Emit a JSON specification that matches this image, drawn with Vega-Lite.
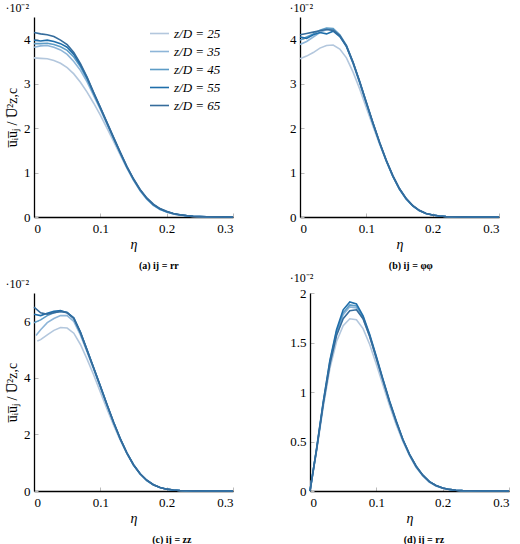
{
"$schema":"https://vega.github.io/schema/vega-lite/v6.json",
"padding":{"left":5,"top":2,"right":2,"bottom":0},
"background":"white",
"config":{
 "font":"Liberation Serif",
 "view":{"stroke":null},
 "axis":{"domainColor":"#000","domainWidth":1.3,"tickColor":"#bbbbbb","tickSize":-4,"tickWidth":1,"labelFont":"Liberation Serif","labelFontSize":13,"labelColor":"#000","grid":false,"titleFont":"Liberation Serif","titleFontSize":14,"titleFontWeight":"normal","titleColor":"#000","labelPadding":8},
 "axisX":{"labelPadding":9,"titleFontStyle":"italic","titlePadding":2},
 "axisY":{"titlePadding":4},
 "legend":{"labelFont":"Liberation Serif"},
 "title":{"font":"Liberation Serif","fontSize":12,"fontWeight":"normal","color":"#000","anchor":"start","offset":2},
 "line":{"strokeWidth":1.6}
},
"datasets":{
"a":[
{"z":"25","x":0,"y":3.58},{"z":"25","x":0.01,"y":3.57},{"z":"25","x":0.02,"y":3.56},{"z":"25","x":0.03,"y":3.52},{"z":"25","x":0.04,"y":3.46},{"z":"25","x":0.05,"y":3.36},{"z":"25","x":0.06,"y":3.22},{"z":"25","x":0.07,"y":3.03},{"z":"25","x":0.08,"y":2.81},{"z":"25","x":0.09,"y":2.56},{"z":"25","x":0.1,"y":2.29},{"z":"25","x":0.11,"y":2.0},{"z":"25","x":0.12,"y":1.7},{"z":"25","x":0.13,"y":1.4},{"z":"25","x":0.14,"y":1.1},{"z":"25","x":0.15,"y":0.83},{"z":"25","x":0.16,"y":0.6},{"z":"25","x":0.17,"y":0.41},{"z":"25","x":0.18,"y":0.27},{"z":"25","x":0.19,"y":0.17},{"z":"25","x":0.2,"y":0.11},{"z":"25","x":0.21,"y":0.07},{"z":"25","x":0.22,"y":0.04},{"z":"25","x":0.23,"y":0.025},{"z":"25","x":0.24,"y":0.015},{"z":"25","x":0.26,"y":0.005},{"z":"25","x":0.28,"y":0.002},{"z":"25","x":0.3,"y":0},
{"z":"35","x":0,"y":3.82},{"z":"35","x":0.01,"y":3.85},{"z":"35","x":0.02,"y":3.86},{"z":"35","x":0.03,"y":3.82},{"z":"35","x":0.04,"y":3.76},{"z":"35","x":0.05,"y":3.66},{"z":"35","x":0.06,"y":3.5},{"z":"35","x":0.07,"y":3.3},{"z":"35","x":0.08,"y":3.04},{"z":"35","x":0.09,"y":2.73},{"z":"35","x":0.1,"y":2.42},{"z":"35","x":0.11,"y":2.09},{"z":"35","x":0.12,"y":1.76},{"z":"35","x":0.13,"y":1.43},{"z":"35","x":0.14,"y":1.11},{"z":"35","x":0.15,"y":0.83},{"z":"35","x":0.16,"y":0.59},{"z":"35","x":0.17,"y":0.4},{"z":"35","x":0.18,"y":0.26},{"z":"35","x":0.19,"y":0.17},{"z":"35","x":0.2,"y":0.11},{"z":"35","x":0.21,"y":0.07},{"z":"35","x":0.22,"y":0.04},{"z":"35","x":0.23,"y":0.025},{"z":"35","x":0.24,"y":0.015},{"z":"35","x":0.26,"y":0.005},{"z":"35","x":0.28,"y":0.002},{"z":"35","x":0.3,"y":0},
{"z":"45","x":0,"y":3.9},{"z":"45","x":0.01,"y":3.9},{"z":"45","x":0.02,"y":3.91},{"z":"45","x":0.03,"y":3.88},{"z":"45","x":0.04,"y":3.83},{"z":"45","x":0.05,"y":3.75},{"z":"45","x":0.06,"y":3.6},{"z":"45","x":0.07,"y":3.38},{"z":"45","x":0.08,"y":3.1},{"z":"45","x":0.09,"y":2.77},{"z":"45","x":0.1,"y":2.45},{"z":"45","x":0.11,"y":2.11},{"z":"45","x":0.12,"y":1.77},{"z":"45","x":0.13,"y":1.44},{"z":"45","x":0.14,"y":1.12},{"z":"45","x":0.15,"y":0.84},{"z":"45","x":0.16,"y":0.6},{"z":"45","x":0.17,"y":0.41},{"z":"45","x":0.18,"y":0.27},{"z":"45","x":0.19,"y":0.18},{"z":"45","x":0.2,"y":0.12},{"z":"45","x":0.21,"y":0.075},{"z":"45","x":0.22,"y":0.045},{"z":"45","x":0.23,"y":0.027},{"z":"45","x":0.24,"y":0.016},{"z":"45","x":0.26,"y":0.006},{"z":"45","x":0.28,"y":0.002},{"z":"45","x":0.3,"y":0},
{"z":"55","x":0,"y":3.98},{"z":"55","x":0.01,"y":3.96},{"z":"55","x":0.02,"y":3.98},{"z":"55","x":0.03,"y":3.95},{"z":"55","x":0.04,"y":3.9},{"z":"55","x":0.05,"y":3.82},{"z":"55","x":0.06,"y":3.66},{"z":"55","x":0.07,"y":3.42},{"z":"55","x":0.08,"y":3.13},{"z":"55","x":0.09,"y":2.79},{"z":"55","x":0.1,"y":2.46},{"z":"55","x":0.11,"y":2.12},{"z":"55","x":0.12,"y":1.78},{"z":"55","x":0.13,"y":1.45},{"z":"55","x":0.14,"y":1.13},{"z":"55","x":0.15,"y":0.85},{"z":"55","x":0.16,"y":0.61},{"z":"55","x":0.17,"y":0.42},{"z":"55","x":0.18,"y":0.28},{"z":"55","x":0.19,"y":0.18},{"z":"55","x":0.2,"y":0.12},{"z":"55","x":0.21,"y":0.08},{"z":"55","x":0.22,"y":0.05},{"z":"55","x":0.23,"y":0.03},{"z":"55","x":0.24,"y":0.018},{"z":"55","x":0.26,"y":0.007},{"z":"55","x":0.28,"y":0.002},{"z":"55","x":0.3,"y":0},
{"z":"65","x":0,"y":4.15},{"z":"65","x":0.01,"y":4.12},{"z":"65","x":0.02,"y":4.1},{"z":"65","x":0.03,"y":4.06},{"z":"65","x":0.04,"y":3.98},{"z":"65","x":0.05,"y":3.88},{"z":"65","x":0.06,"y":3.7},{"z":"65","x":0.07,"y":3.45},{"z":"65","x":0.08,"y":3.15},{"z":"65","x":0.09,"y":2.8},{"z":"65","x":0.1,"y":2.47},{"z":"65","x":0.11,"y":2.13},{"z":"65","x":0.12,"y":1.79},{"z":"65","x":0.13,"y":1.46},{"z":"65","x":0.14,"y":1.14},{"z":"65","x":0.15,"y":0.86},{"z":"65","x":0.16,"y":0.62},{"z":"65","x":0.17,"y":0.43},{"z":"65","x":0.18,"y":0.29},{"z":"65","x":0.19,"y":0.19},{"z":"65","x":0.2,"y":0.13},{"z":"65","x":0.21,"y":0.08},{"z":"65","x":0.22,"y":0.05},{"z":"65","x":0.23,"y":0.03},{"z":"65","x":0.24,"y":0.018},{"z":"65","x":0.26,"y":0.007},{"z":"65","x":0.28,"y":0.002},{"z":"65","x":0.3,"y":0}
],
"b":[
{"z":"25","x":0,"y":3.56},{"z":"25","x":0.01,"y":3.62},{"z":"25","x":0.02,"y":3.7},{"z":"25","x":0.03,"y":3.8},{"z":"25","x":0.04,"y":3.86},{"z":"25","x":0.05,"y":3.87},{"z":"25","x":0.06,"y":3.78},{"z":"25","x":0.07,"y":3.58},{"z":"25","x":0.08,"y":3.26},{"z":"25","x":0.09,"y":2.88},{"z":"25","x":0.1,"y":2.46},{"z":"25","x":0.11,"y":2.04},{"z":"25","x":0.12,"y":1.64},{"z":"25","x":0.13,"y":1.26},{"z":"25","x":0.14,"y":0.92},{"z":"25","x":0.15,"y":0.63},{"z":"25","x":0.16,"y":0.41},{"z":"25","x":0.17,"y":0.25},{"z":"25","x":0.18,"y":0.14},{"z":"25","x":0.19,"y":0.08},{"z":"25","x":0.2,"y":0.045},{"z":"25","x":0.21,"y":0.024},{"z":"25","x":0.22,"y":0.012},{"z":"25","x":0.23,"y":0.006},{"z":"25","x":0.24,"y":0.003},{"z":"25","x":0.26,"y":0.001},{"z":"25","x":0.28,"y":0},{"z":"25","x":0.3,"y":0},
{"z":"35","x":0,"y":3.88},{"z":"35","x":0.01,"y":3.95},{"z":"35","x":0.02,"y":4.05},{"z":"35","x":0.03,"y":4.15},{"z":"35","x":0.04,"y":4.22},{"z":"35","x":0.05,"y":4.22},{"z":"35","x":0.06,"y":4.08},{"z":"35","x":0.07,"y":3.83},{"z":"35","x":0.08,"y":3.45},{"z":"35","x":0.09,"y":3.01},{"z":"35","x":0.1,"y":2.54},{"z":"35","x":0.11,"y":2.09},{"z":"35","x":0.12,"y":1.66},{"z":"35","x":0.13,"y":1.26},{"z":"35","x":0.14,"y":0.91},{"z":"35","x":0.15,"y":0.62},{"z":"35","x":0.16,"y":0.4},{"z":"35","x":0.17,"y":0.25},{"z":"35","x":0.18,"y":0.14},{"z":"35","x":0.19,"y":0.08},{"z":"35","x":0.2,"y":0.045},{"z":"35","x":0.21,"y":0.024},{"z":"35","x":0.22,"y":0.012},{"z":"35","x":0.23,"y":0.006},{"z":"35","x":0.24,"y":0.003},{"z":"35","x":0.26,"y":0.001},{"z":"35","x":0.28,"y":0},{"z":"35","x":0.3,"y":0},
{"z":"45","x":0,"y":3.98},{"z":"45","x":0.01,"y":4.05},{"z":"45","x":0.02,"y":4.12},{"z":"45","x":0.03,"y":4.2},{"z":"45","x":0.04,"y":4.25},{"z":"45","x":0.05,"y":4.24},{"z":"45","x":0.06,"y":4.1},{"z":"45","x":0.07,"y":3.86},{"z":"45","x":0.08,"y":3.48},{"z":"45","x":0.09,"y":3.04},{"z":"45","x":0.1,"y":2.57},{"z":"45","x":0.11,"y":2.11},{"z":"45","x":0.12,"y":1.67},{"z":"45","x":0.13,"y":1.27},{"z":"45","x":0.14,"y":0.92},{"z":"45","x":0.15,"y":0.63},{"z":"45","x":0.16,"y":0.41},{"z":"45","x":0.17,"y":0.25},{"z":"45","x":0.18,"y":0.145},{"z":"45","x":0.19,"y":0.08},{"z":"45","x":0.2,"y":0.045},{"z":"45","x":0.21,"y":0.024},{"z":"45","x":0.22,"y":0.012},{"z":"45","x":0.23,"y":0.006},{"z":"45","x":0.24,"y":0.003},{"z":"45","x":0.26,"y":0.001},{"z":"45","x":0.28,"y":0},{"z":"45","x":0.3,"y":0},
{"z":"55","x":0,"y":4.05},{"z":"55","x":0.01,"y":4.02},{"z":"55","x":0.02,"y":4.1},{"z":"55","x":0.03,"y":4.15},{"z":"55","x":0.04,"y":4.12},{"z":"55","x":0.05,"y":4.18},{"z":"55","x":0.06,"y":4.06},{"z":"55","x":0.07,"y":3.84},{"z":"55","x":0.08,"y":3.47},{"z":"55","x":0.09,"y":3.04},{"z":"55","x":0.1,"y":2.57},{"z":"55","x":0.11,"y":2.11},{"z":"55","x":0.12,"y":1.67},{"z":"55","x":0.13,"y":1.27},{"z":"55","x":0.14,"y":0.92},{"z":"55","x":0.15,"y":0.63},{"z":"55","x":0.16,"y":0.41},{"z":"55","x":0.17,"y":0.25},{"z":"55","x":0.18,"y":0.145},{"z":"55","x":0.19,"y":0.08},{"z":"55","x":0.2,"y":0.045},{"z":"55","x":0.21,"y":0.024},{"z":"55","x":0.22,"y":0.012},{"z":"55","x":0.23,"y":0.006},{"z":"55","x":0.24,"y":0.003},{"z":"55","x":0.26,"y":0.001},{"z":"55","x":0.28,"y":0},{"z":"55","x":0.3,"y":0},
{"z":"65","x":0,"y":4.1},{"z":"65","x":0.01,"y":4.13},{"z":"65","x":0.02,"y":4.16},{"z":"65","x":0.03,"y":4.19},{"z":"65","x":0.04,"y":4.22},{"z":"65","x":0.05,"y":4.2},{"z":"65","x":0.06,"y":4.08},{"z":"65","x":0.07,"y":3.85},{"z":"65","x":0.08,"y":3.48},{"z":"65","x":0.09,"y":3.05},{"z":"65","x":0.1,"y":2.58},{"z":"65","x":0.11,"y":2.12},{"z":"65","x":0.12,"y":1.68},{"z":"65","x":0.13,"y":1.28},{"z":"65","x":0.14,"y":0.93},{"z":"65","x":0.15,"y":0.64},{"z":"65","x":0.16,"y":0.42},{"z":"65","x":0.17,"y":0.26},{"z":"65","x":0.18,"y":0.15},{"z":"65","x":0.19,"y":0.08},{"z":"65","x":0.2,"y":0.045},{"z":"65","x":0.21,"y":0.024},{"z":"65","x":0.22,"y":0.012},{"z":"65","x":0.23,"y":0.006},{"z":"65","x":0.24,"y":0.003},{"z":"65","x":0.26,"y":0.001},{"z":"65","x":0.28,"y":0},{"z":"65","x":0.3,"y":0}
],
"c":[
{"z":"25","x":0.005,"y":5.3},{"z":"25","x":0.01,"y":5.35},{"z":"25","x":0.02,"y":5.52},{"z":"25","x":0.03,"y":5.68},{"z":"25","x":0.04,"y":5.78},{"z":"25","x":0.05,"y":5.76},{"z":"25","x":0.06,"y":5.58},{"z":"25","x":0.07,"y":5.18},{"z":"25","x":0.08,"y":4.66},{"z":"25","x":0.09,"y":4.1},{"z":"25","x":0.1,"y":3.5},{"z":"25","x":0.11,"y":2.9},{"z":"25","x":0.12,"y":2.33},{"z":"25","x":0.13,"y":1.8},{"z":"25","x":0.14,"y":1.33},{"z":"25","x":0.15,"y":0.93},{"z":"25","x":0.16,"y":0.61},{"z":"25","x":0.17,"y":0.38},{"z":"25","x":0.18,"y":0.22},{"z":"25","x":0.19,"y":0.12},{"z":"25","x":0.2,"y":0.065},{"z":"25","x":0.21,"y":0.035},{"z":"25","x":0.22,"y":0.018},{"z":"25","x":0.23,"y":0.009},{"z":"25","x":0.24,"y":0.004},{"z":"25","x":0.26,"y":0.001},{"z":"25","x":0.28,"y":0},{"z":"25","x":0.3,"y":0},
{"z":"35","x":0.003,"y":5.5},{"z":"35","x":0.01,"y":5.7},{"z":"35","x":0.02,"y":5.95},{"z":"35","x":0.03,"y":6.1},{"z":"35","x":0.04,"y":6.2},{"z":"35","x":0.05,"y":6.2},{"z":"35","x":0.06,"y":6.0},{"z":"35","x":0.07,"y":5.52},{"z":"35","x":0.08,"y":4.92},{"z":"35","x":0.09,"y":4.3},{"z":"35","x":0.1,"y":3.66},{"z":"35","x":0.11,"y":3.02},{"z":"35","x":0.12,"y":2.4},{"z":"35","x":0.13,"y":1.83},{"z":"35","x":0.14,"y":1.33},{"z":"35","x":0.15,"y":0.92},{"z":"35","x":0.16,"y":0.6},{"z":"35","x":0.17,"y":0.37},{"z":"35","x":0.18,"y":0.21},{"z":"35","x":0.19,"y":0.12},{"z":"35","x":0.2,"y":0.06},{"z":"35","x":0.21,"y":0.033},{"z":"35","x":0.22,"y":0.017},{"z":"35","x":0.23,"y":0.008},{"z":"35","x":0.24,"y":0.004},{"z":"35","x":0.26,"y":0.001},{"z":"35","x":0.28,"y":0},{"z":"35","x":0.3,"y":0},
{"z":"45","x":0,"y":5.95},{"z":"45","x":0.01,"y":6.05},{"z":"45","x":0.02,"y":6.2},{"z":"45","x":0.03,"y":6.3},{"z":"45","x":0.04,"y":6.35},{"z":"45","x":0.05,"y":6.32},{"z":"45","x":0.06,"y":6.1},{"z":"45","x":0.07,"y":5.6},{"z":"45","x":0.08,"y":4.98},{"z":"45","x":0.09,"y":4.35},{"z":"45","x":0.1,"y":3.7},{"z":"45","x":0.11,"y":3.05},{"z":"45","x":0.12,"y":2.42},{"z":"45","x":0.13,"y":1.84},{"z":"45","x":0.14,"y":1.34},{"z":"45","x":0.15,"y":0.92},{"z":"45","x":0.16,"y":0.6},{"z":"45","x":0.17,"y":0.37},{"z":"45","x":0.18,"y":0.22},{"z":"45","x":0.19,"y":0.12},{"z":"45","x":0.2,"y":0.065},{"z":"45","x":0.21,"y":0.035},{"z":"45","x":0.22,"y":0.018},{"z":"45","x":0.23,"y":0.009},{"z":"45","x":0.24,"y":0.004},{"z":"45","x":0.26,"y":0.001},{"z":"45","x":0.28,"y":0},{"z":"45","x":0.3,"y":0},
{"z":"55","x":0,"y":6.25},{"z":"55","x":0.01,"y":6.2},{"z":"55","x":0.02,"y":6.28},{"z":"55","x":0.03,"y":6.35},{"z":"55","x":0.04,"y":6.38},{"z":"55","x":0.05,"y":6.3},{"z":"55","x":0.06,"y":6.12},{"z":"55","x":0.07,"y":5.62},{"z":"55","x":0.08,"y":4.98},{"z":"55","x":0.09,"y":4.35},{"z":"55","x":0.1,"y":3.71},{"z":"55","x":0.11,"y":3.06},{"z":"55","x":0.12,"y":2.43},{"z":"55","x":0.13,"y":1.85},{"z":"55","x":0.14,"y":1.35},{"z":"55","x":0.15,"y":0.93},{"z":"55","x":0.16,"y":0.61},{"z":"55","x":0.17,"y":0.38},{"z":"55","x":0.18,"y":0.22},{"z":"55","x":0.19,"y":0.12},{"z":"55","x":0.2,"y":0.065},{"z":"55","x":0.21,"y":0.035},{"z":"55","x":0.22,"y":0.018},{"z":"55","x":0.23,"y":0.009},{"z":"55","x":0.24,"y":0.004},{"z":"55","x":0.26,"y":0.001},{"z":"55","x":0.28,"y":0},{"z":"55","x":0.3,"y":0},
{"z":"65","x":0,"y":6.5},{"z":"65","x":0.01,"y":6.3},{"z":"65","x":0.02,"y":6.25},{"z":"65","x":0.03,"y":6.3},{"z":"65","x":0.04,"y":6.35},{"z":"65","x":0.05,"y":6.3},{"z":"65","x":0.06,"y":6.1},{"z":"65","x":0.07,"y":5.6},{"z":"65","x":0.08,"y":4.98},{"z":"65","x":0.09,"y":4.35},{"z":"65","x":0.1,"y":3.71},{"z":"65","x":0.11,"y":3.06},{"z":"65","x":0.12,"y":2.43},{"z":"65","x":0.13,"y":1.85},{"z":"65","x":0.14,"y":1.35},{"z":"65","x":0.15,"y":0.93},{"z":"65","x":0.16,"y":0.61},{"z":"65","x":0.17,"y":0.38},{"z":"65","x":0.18,"y":0.22},{"z":"65","x":0.19,"y":0.12},{"z":"65","x":0.2,"y":0.065},{"z":"65","x":0.21,"y":0.035},{"z":"65","x":0.22,"y":0.018},{"z":"65","x":0.23,"y":0.009},{"z":"65","x":0.24,"y":0.004},{"z":"65","x":0.26,"y":0.001},{"z":"65","x":0.28,"y":0},{"z":"65","x":0.3,"y":0}
],
"d":[
{"z":"25","x":0,"y":0},{"z":"25","x":0.01,"y":0.41},{"z":"25","x":0.02,"y":0.85},{"z":"25","x":0.03,"y":1.24},{"z":"25","x":0.04,"y":1.51},{"z":"25","x":0.05,"y":1.67},{"z":"25","x":0.06,"y":1.74},{"z":"25","x":0.07,"y":1.73},{"z":"25","x":0.08,"y":1.64},{"z":"25","x":0.09,"y":1.48},{"z":"25","x":0.1,"y":1.28},{"z":"25","x":0.11,"y":1.07},{"z":"25","x":0.12,"y":0.86},{"z":"25","x":0.13,"y":0.67},{"z":"25","x":0.14,"y":0.5},{"z":"25","x":0.15,"y":0.36},{"z":"25","x":0.16,"y":0.24},{"z":"25","x":0.17,"y":0.155},{"z":"25","x":0.18,"y":0.09},{"z":"25","x":0.19,"y":0.05},{"z":"25","x":0.2,"y":0.028},{"z":"25","x":0.21,"y":0.015},{"z":"25","x":0.22,"y":0.008},{"z":"25","x":0.23,"y":0.004},{"z":"25","x":0.24,"y":0.002},{"z":"25","x":0.26,"y":0},{"z":"25","x":0.28,"y":0},{"z":"25","x":0.3,"y":0},
{"z":"35","x":0,"y":0},{"z":"35","x":0.01,"y":0.42},{"z":"35","x":0.02,"y":0.88},{"z":"35","x":0.03,"y":1.29},{"z":"35","x":0.04,"y":1.59},{"z":"35","x":0.05,"y":1.78},{"z":"35","x":0.06,"y":1.86},{"z":"35","x":0.07,"y":1.85},{"z":"35","x":0.08,"y":1.74},{"z":"35","x":0.09,"y":1.56},{"z":"35","x":0.1,"y":1.34},{"z":"35","x":0.11,"y":1.11},{"z":"35","x":0.12,"y":0.89},{"z":"35","x":0.13,"y":0.69},{"z":"35","x":0.14,"y":0.51},{"z":"35","x":0.15,"y":0.36},{"z":"35","x":0.16,"y":0.24},{"z":"35","x":0.17,"y":0.155},{"z":"35","x":0.18,"y":0.09},{"z":"35","x":0.19,"y":0.05},{"z":"35","x":0.2,"y":0.028},{"z":"35","x":0.21,"y":0.015},{"z":"35","x":0.22,"y":0.008},{"z":"35","x":0.23,"y":0.004},{"z":"35","x":0.24,"y":0.002},{"z":"35","x":0.26,"y":0},{"z":"35","x":0.28,"y":0},{"z":"35","x":0.3,"y":0},
{"z":"45","x":0,"y":0},{"z":"45","x":0.01,"y":0.43},{"z":"45","x":0.02,"y":0.9},{"z":"45","x":0.03,"y":1.31},{"z":"45","x":0.04,"y":1.61},{"z":"45","x":0.05,"y":1.8},{"z":"45","x":0.06,"y":1.88},{"z":"45","x":0.07,"y":1.87},{"z":"45","x":0.08,"y":1.76},{"z":"45","x":0.09,"y":1.57},{"z":"45","x":0.1,"y":1.35},{"z":"45","x":0.11,"y":1.12},{"z":"45","x":0.12,"y":0.9},{"z":"45","x":0.13,"y":0.7},{"z":"45","x":0.14,"y":0.52},{"z":"45","x":0.15,"y":0.37},{"z":"45","x":0.16,"y":0.25},{"z":"45","x":0.17,"y":0.16},{"z":"45","x":0.18,"y":0.095},{"z":"45","x":0.19,"y":0.055},{"z":"45","x":0.2,"y":0.03},{"z":"45","x":0.21,"y":0.016},{"z":"45","x":0.22,"y":0.008},{"z":"45","x":0.23,"y":0.004},{"z":"45","x":0.24,"y":0.002},{"z":"45","x":0.26,"y":0},{"z":"45","x":0.28,"y":0},{"z":"45","x":0.3,"y":0},
{"z":"55","x":0,"y":0},{"z":"55","x":0.01,"y":0.43},{"z":"55","x":0.02,"y":0.9},{"z":"55","x":0.03,"y":1.32},{"z":"55","x":0.04,"y":1.63},{"z":"55","x":0.05,"y":1.83},{"z":"55","x":0.06,"y":1.91},{"z":"55","x":0.07,"y":1.89},{"z":"55","x":0.08,"y":1.77},{"z":"55","x":0.09,"y":1.58},{"z":"55","x":0.1,"y":1.36},{"z":"55","x":0.11,"y":1.13},{"z":"55","x":0.12,"y":0.91},{"z":"55","x":0.13,"y":0.71},{"z":"55","x":0.14,"y":0.52},{"z":"55","x":0.15,"y":0.37},{"z":"55","x":0.16,"y":0.25},{"z":"55","x":0.17,"y":0.16},{"z":"55","x":0.18,"y":0.095},{"z":"55","x":0.19,"y":0.055},{"z":"55","x":0.2,"y":0.03},{"z":"55","x":0.21,"y":0.016},{"z":"55","x":0.22,"y":0.008},{"z":"55","x":0.23,"y":0.004},{"z":"55","x":0.24,"y":0.002},{"z":"55","x":0.26,"y":0},{"z":"55","x":0.28,"y":0},{"z":"55","x":0.3,"y":0},
{"z":"65","x":0,"y":0},{"z":"65","x":0.01,"y":0.42},{"z":"65","x":0.02,"y":0.88},{"z":"65","x":0.03,"y":1.28},{"z":"65","x":0.04,"y":1.57},{"z":"65","x":0.05,"y":1.74},{"z":"65","x":0.06,"y":1.82},{"z":"65","x":0.07,"y":1.83},{"z":"65","x":0.08,"y":1.74},{"z":"65","x":0.09,"y":1.56},{"z":"65","x":0.1,"y":1.34},{"z":"65","x":0.11,"y":1.12},{"z":"65","x":0.12,"y":0.9},{"z":"65","x":0.13,"y":0.7},{"z":"65","x":0.14,"y":0.52},{"z":"65","x":0.15,"y":0.37},{"z":"65","x":0.16,"y":0.25},{"z":"65","x":0.17,"y":0.16},{"z":"65","x":0.18,"y":0.095},{"z":"65","x":0.19,"y":0.055},{"z":"65","x":0.2,"y":0.03},{"z":"65","x":0.21,"y":0.016},{"z":"65","x":0.22,"y":0.008},{"z":"65","x":0.23,"y":0.004},{"z":"65","x":0.24,"y":0.002},{"z":"65","x":0.26,"y":0},{"z":"65","x":0.28,"y":0},{"z":"65","x":0.3,"y":0}
]
},
"vconcat":[
 {"hconcat":[
  {"title":{"text":"(a) ij = rr","orient":"bottom","anchor":"middle","fontSize":10,"fontWeight":"bold","offset":10,"frame":"bounds","dx":38},
   "resolve":{"scale":{"color":"independent"},"legend":{"color":"independent"}},
   "vconcat":[{
   "width":199,"height":200,"data":{"name":"a"},
   "title":{"text":"·10⁻²"},
   "mark":{"type":"line"},
   "encoding":{
    "x":{"field":"x","type":"quantitative","scale":{"domain":[0,0.3],"nice":false},"axis":{"values":[0,0.1,0.2,0.3],"format":"~g","title":"η"}},
    "y":{"field":"y","type":"quantitative","scale":{"domain":[0,4.5],"nice":false},"axis":{"values":[0,1,2,3,4],"format":"~g","title":"u̅ᵢu̅ⱼ / U̅²z,c"}},
    "color":{"field":"z","type":"nominal","scale":{"domain":["25","35","45","55","65"],"range":["#b3c7dd","#8db5d8","#5d9cc6","#1f6eaa","#356c9c"]},
     "legend":{"title":null,"orient":"none","legendX":115,"legendY":6,"symbolType":"stroke","symbolSize":361,"symbolStrokeWidth":2,"labelFont":"Liberation Serif","labelFontStyle":"italic","labelFontSize":13,"labelColor":"#000","rowPadding":0,"labelOffset":4,"labelExpr":"'z/D = ' + datum.label"}}
   }}]},
  {"title":{"text":"(b) ij = φφ","orient":"bottom","anchor":"middle","fontSize":10,"fontWeight":"bold","offset":10,"frame":"bounds","dx":15},
   "resolve":{"scale":{"color":"independent"},"legend":{"color":"independent"}},
   "vconcat":[{
   "width":199,"height":200,"data":{"name":"b"},
   "title":{"text":"·10⁻²"},
   "mark":{"type":"line"},
   "encoding":{
    "x":{"field":"x","type":"quantitative","scale":{"domain":[0,0.3],"nice":false},"axis":{"values":[0,0.1,0.2,0.3],"format":"~g","title":"η"}},
    "y":{"field":"y","type":"quantitative","scale":{"domain":[0,4.5],"nice":false},"axis":{"values":[0,1,2,3,4],"format":"~g","title":null}},
    "color":{"field":"z","type":"nominal","scale":{"domain":["25","35","45","55","65"],"range":["#b3c7dd","#8db5d8","#5d9cc6","#1f6eaa","#356c9c"]},"legend":null}
   }}]}
 ],"spacing":52,"resolve":{"scale":{"color":"independent"},"legend":{"color":"independent"}}},
 {"hconcat":[
  {"title":{"text":"(c) ij = zz","orient":"bottom","anchor":"middle","fontSize":10,"fontWeight":"bold","offset":10,"frame":"bounds","dx":51},
   "resolve":{"scale":{"color":"independent"},"legend":{"color":"independent"}},
   "vconcat":[{
   "width":199,"height":198,"data":{"name":"c"},
   "title":{"text":"·10⁻²"},
   "mark":{"type":"line"},
   "encoding":{
    "x":{"field":"x","type":"quantitative","scale":{"domain":[0,0.3],"nice":false},"axis":{"values":[0,0.1,0.2,0.3],"format":"~g","title":"η"}},
    "y":{"field":"y","type":"quantitative","scale":{"domain":[0,7],"nice":false},"axis":{"values":[0,2,4,6],"format":"~g","title":"u̅ᵢu̅ⱼ / U̅²z,c"}},
    "color":{"field":"z","type":"nominal","scale":{"domain":["25","35","45","55","65"],"range":["#b3c7dd","#8db5d8","#5d9cc6","#1f6eaa","#356c9c"]},"legend":null}
   }}]},
  {"title":{"text":"(d) ij = rz","orient":"bottom","anchor":"middle","fontSize":10,"fontWeight":"bold","offset":10,"frame":"bounds","dx":23},
   "resolve":{"scale":{"color":"independent"},"legend":{"color":"independent"}},
   "vconcat":[{
   "width":199,"height":198,"data":{"name":"d"},
   "title":{"text":"·10⁻²"},
   "mark":{"type":"line"},
   "encoding":{
    "x":{"field":"x","type":"quantitative","scale":{"domain":[0,0.3],"nice":false},"axis":{"values":[0,0.1,0.2,0.3],"format":"~g","title":"η"}},
    "y":{"field":"y","type":"quantitative","scale":{"domain":[0,2],"nice":false},"axis":{"values":[0,0.5,1,1.5,2],"format":"~g","title":null}},
    "color":{"field":"z","type":"nominal","scale":{"domain":["25","35","45","55","65"],"range":["#b3c7dd","#8db5d8","#5d9cc6","#1f6eaa","#356c9c"]},"legend":null}
   }}]}
 ],"spacing":52,"resolve":{"scale":{"color":"independent"},"legend":{"color":"independent"}}}
],
"spacing":1,
"resolve":{"scale":{"color":"independent"},"legend":{"color":"independent"}}
}
